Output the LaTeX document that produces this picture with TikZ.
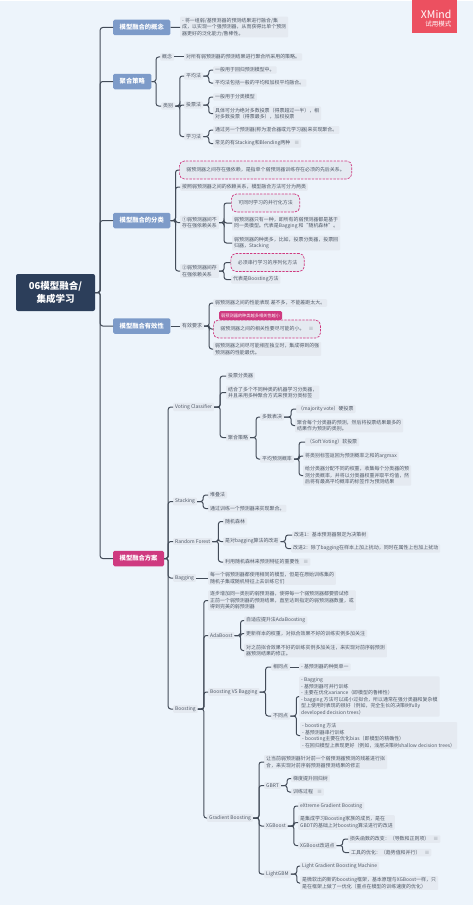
\documentclass[tikz,border=0pt]{standalone}
\usepackage{fontspec}
\setmainfont{Noto Sans CJK SC}
\definecolor{pagebg}{HTML}{EDF4FB}
\definecolor{leafbg}{HTML}{E5EAF1}
\definecolor{leafink}{HTML}{4F5967}
\definecolor{linkgrey}{HTML}{434C59}
\definecolor{rootink}{HTML}{2C3E5A}
\definecolor{topblue}{HTML}{7D9BC9}
\definecolor{toppink}{HTML}{CF3A80}
\definecolor{badgered}{HTML}{EC5060}
\tikzset{
  link/.style={draw=linkgrey,line width=1pt,rounded corners=2.5pt},
  leaf/.style={fill=leafbg,text=leafink,font=\fontsize{4.95}{6.5}\selectfont,align=left,anchor=west,
    inner xsep=2pt,inner ysep=1.4pt,rounded corners=1pt},
  hilite/.style={leaf,draw=toppink,dash pattern=on 2.4pt off 1.2pt,line width=0.7pt,rounded corners=5pt,
    inner xsep=7pt,minimum height=18pt},
  topic/.style={fill=topblue,text=white,font=\fontsize{6.3}{7}\bfseries\selectfont,anchor=west,
    inner xsep=6.5pt,minimum height=15.5pt,rounded corners=1.5pt},
}
\newcommand{\branch}[3]{\foreach \kid in {#3}{\draw[link] (#1.east) -- ([xshift=#2]#1.east) |- (\kid.west);}}
\newcommand{\noteicon}{\hspace{4pt}{\color{leafink!70}≡}}
\begin{document}
\begin{tikzpicture}[x=1pt,y=-1pt]
  \useasboundingbox (0,0) rectangle (474,907);
  \fill[white] (0,0) rectangle (474,907);
  \fill[pagebg] (0,1.5) rectangle (472.5,904.5);

  % root and the first level
  \node[fill=rootink,text=white,font=\fontsize{9.5}{13}\bfseries\selectfont,align=center,
    minimum width=79pt,minimum height=37pt,rounded corners=2pt] (root) at (55.5,292.5) {06模型融合/\\集成学习};
  \node[topic] (concept) at (113,27.5) {模型融合的概念};
  \node[topic] (combine) at (113,81.5) {聚合策略};
  \node[topic] (kinds) at (113,220.5) {模型融合的分类};
  \node[topic] (valid) at (113,326) {模型融合有效性};
  \node[topic,fill=toppink] (scheme) at (113,558.5) {模型融合方案};
  \branch{root}{5pt}{concept,combine,kinds,valid,scheme}

  % concept
  \node[leaf] (conceptA) at (180,27) {- 将一组弱/基预测器的预测结果进行融合/集\\成，以实现一个强预测器，从而获得比单个预测\\器更好的泛化能力/鲁棒性。};
  \draw[link] (concept) -- (conceptA);

  % combine
  \node[leaf] (idea) at (160,57) {概念};
  \node[leaf] (ideaA) at (184,57) {对所有弱预测器的预测结果进行聚合所采用的策略。};
  \node[leaf] (sort) at (161,106) {类别};
  \branch{combine}{4.5pt}{idea,sort}
  \draw[link] (idea) -- (ideaA);
  \node[leaf] (mean) at (184,76) {平均法};
  \node[leaf] (vote) at (184,105) {投票法};
  \node[leaf] (learn) at (184,136.5) {学习法};
  \branch{sort}{4.5pt}{mean,vote,learn}
  \node[leaf] (meanA) at (213,70) {一般用于回归预测模型中。};
  \node[leaf] (meanB) at (213,83) {平均法包括一般的平均和加权平均融合。};
  \branch{mean}{5.5pt}{meanA,meanB}
  \node[leaf] (voteA) at (213,97) {一般用于分类模型};
  \node[leaf] (voteB) at (213,113.5) {具体可分为绝对多数投票（得票超过一半），相\\对多数投票（得票最多），加权投票};
  \branch{vote}{5.5pt}{voteA,voteB}
  \node[leaf] (learnA) at (213,130) {通过另一个预测器(称为混合器或元学习器)来实现聚合。};
  \node[leaf] (learnB) at (213,143.5) {常见的有Stacking和Blending两种\noteicon};
  \branch{learn}{5.5pt}{learnA,learnB}

  % kinds
  \node[hilite] (kindA) at (179,170) {弱预测器之间存在强依赖，是指单个弱预测器训练存在必须的先后关系。};
  \node[leaf] (kindB) at (180,187) {按照弱预测器之间的依赖关系，模型融合方法可分为两类};
  \node[leaf] (kindC) at (180,222.5) {①弱预测器间不\\存在强依赖关系};
  \node[leaf] (kindD) at (180,271) {②弱预测器间存\\在强依赖关系};
  \branch{kinds}{5pt}{kindA,kindB,kindC,kindD}
  \node[hilite] (paraA) at (231,203) {可同时学习的并行化方法};
  \node[leaf] (paraB) at (232,223) {弱预测器只有一种，即所有的弱预测器都是基于\\同一类模型。代表是Bagging 和“随机森林”。};
  \node[leaf] (paraC) at (232,243) {弱预测器的种类多，比如，投票分类器，投票回\\归器，Stacking};
  \branch{kindC}{5pt}{paraA,paraB,paraC}
  \node[hilite] (seqA) at (230.5,262.5) {必须串行学习的序列化方法};
  \node[leaf] (seqB) at (231,279.5) {代表是Boosting方法};
  \branch{kindD}{5pt}{seqA,seqB}

  % valid
  \node[leaf] (need) at (180,326) {有效要求};
  \draw[link] (valid) -- (need);
  \node[leaf] (needA) at (213,303) {弱预测器之间的性能表现 差不多，不能差距太大。};
  \node[hilite] (needB) at (213,329) {弱预测器之间的相关性要尽可能的小。\noteicon};
  \node[leaf] (needC) at (213,349) {弱预测器之间尽可能相互独立时，集成得到的强\\预测器的性能最优。};
  \branch{need}{5pt}{needA,needB,needC}
  \node[fill=toppink,text=white,font=\fontsize{4.2}{5}\selectfont,anchor=west,inner xsep=2pt,inner ysep=1pt,
    minimum height=9pt,rounded corners=1.5pt] (needtag) at (219,315.5) {弱预测器的种类越多相关性越小};

  % scheme
  \node[leaf] (voting) at (173,407) {Voting Classifier};
  \node[leaf] (stacking) at (173,501.5) {Stacking};
  \node[leaf] (forest) at (173,541.5) {Random Forest};
  \node[leaf] (bagging) at (173,578) {Bagging};
  \node[leaf] (boosting) at (173,709) {Boosting};
  \branch{scheme}{4pt}{voting,stacking,forest,bagging,boosting}

  % voting classifier
  \node[leaf] (votingA) at (226,376) {投票分类器};
  \node[leaf] (votingB) at (226,392.5) {结合了多个不同种类的机器学习分类器，\\并且采用多种聚合方式来预测分类标签};
  \node[leaf] (votingC) at (226,437.5) {聚合策略};
  \branch{voting}{6pt}{votingA,votingB,votingC}
  \node[leaf] (major) at (260,417) {多数表决};
  \node[leaf] (soft) at (260,459) {平均预测概率};
  \branch{votingC}{6pt}{major,soft}
  \node[leaf] (majorA) at (296,409) {（majority vote）硬投票};
  \node[leaf] (majorB) at (295,425.5) {聚合每个分类器的预测，然后将投票结果最多的\\结果作为预测的类别。};
  \branch{major}{7pt}{majorA,majorB}
  \node[leaf] (softA) at (305,442) {（Soft Voting）软投票};
  \node[leaf] (softB) at (303,456) {将类别标签返回为预测概率之和的argmax};
  \node[leaf] (softC) at (303,475.5) {给分类器分配不同的权重，收集每个分类器的预\\测分类概率，并将以分类器权重并取平均值，然\\后将有最高平均概率的标签作为预测结果};
  \branch{soft}{5pt}{softA,softB,softC}

  % stacking
  \node[leaf] (stackA) at (208,495) {堆叠法};
  \node[leaf] (stackB) at (208,508.5) {通过训练一个预测器来实现聚合。};
  \branch{stacking}{6pt}{stackA,stackB}

  % random forest
  \node[leaf] (forestA) at (223,521.5) {随机森林};
  \node[leaf] (forestB) at (223,541.5) {是对bagging算法的改进};
  \node[leaf] (forestC) at (223,562) {利用随机森林来预测特征的重要性\noteicon};
  \branch{forest}{6pt}{forestA,forestB,forestC}
  \node[leaf] (betterA) at (292,535) {改进1：基本预测器限定为决策树};
  \node[leaf] (betterB) at (291,548.5) {改进2：除了bagging在样本上加上扰动，同时在属性上也加上扰动};
  \branch{forestB}{5pt}{betterA,betterB}

  % bagging
  \node[leaf] (baggingA) at (208,578) {每一个弱预测器都使用相同的模型，但是在原始训练集的\\随机子集或随机特征上去训练它们};
  \draw[link] (bagging) -- (baggingA);

  % boosting
  \node[leaf] (boostA) at (208,600.5) {逐步增加同一类别的弱预测器，使得每一个弱预测器都要尝试修\\正前一个弱预测器的预测结果，直至达到指定的弱预测器数量，或\\得到完美的弱预测器};
  \node[leaf] (ada) at (208,635.5) {AdaBoost};
  \node[leaf] (vs) at (208,692) {Boosting VS Bagging};
  \node[leaf] (gradient) at (207,818) {Gradient Boosting};
  \branch{boosting}{6pt}{boostA,ada,vs,gradient}
  \node[leaf] (adaA) at (244,620.5) {自适应提升法AdaBoosting};
  \node[leaf] (adaB) at (244,633.5) {更新样本的权重，对拟合效果不好的训练实例多加关注};
  \node[leaf] (adaC) at (244,650.5) {对之前拟合效果不好的训练实例多加关注，来实现对前序弱预测\\器预测结果的修正。};
  \branch{ada}{6pt}{adaA,adaB,adaC}
  \node[leaf] (same) at (271,667) {相同点};
  \node[leaf] (diff) at (271,716) {不同点};
  \branch{vs}{6pt}{same,diff}
  \node[leaf] (sameA) at (299,667) {- 基预测器的种类单一};
  \draw[link] (same) -- (sameA);
  \node[leaf] (diffA) at (299,696.5) {- Bagging\\- 基预测器可并行训练\\- 主要在优化variance（即模型的鲁棒性）\\- bagging 方法可以减小过拟合，所以通常在强分类器和复杂模\\型上使用时表现的很好（例如，完全生长的决策树fully\\developed decision trees）};
  \node[leaf] (diffB) at (300,735.5) {- boosting 方法\\- 基预测器串行训练\\- boosting主要在优化bias（即模型的精确性）\\- 在回归模型上表现更好（例如，浅层决策树shallow decision trees）};
  \branch{diff}{6pt}{diffA,diffB}

  % gradient boosting
  \node[leaf] (gradA) at (264,762) {让当前弱预测器针对前一个弱预测器预测的残差进行拟\\合，来实现对前序弱预测器预测结果的修正};
  \node[leaf] (gbrt) at (264,785.5) {GBRT};
  \node[leaf] (xgb) at (264,826) {XGBoost};
  \node[leaf] (lgbm) at (264,874) {LightGBM};
  \branch{gradient}{6pt}{gradA,gbrt,xgb,lgbm}
  \node[leaf] (gbrtA) at (291,778.5) {梯度提升回归树};
  \node[leaf] (gbrtB) at (291,792) {训练过程\noteicon};
  \branch{gbrt}{6pt}{gbrtA,gbrtB}
  \node[leaf] (xgbA) at (298,806) {eXtreme Gradient Boosting};
  \node[leaf] (xgbB) at (298,822.5) {是集成学习Boosting家族的成员，是在\\GBDT的基础上对boosting算法进行的改进};
  \node[leaf] (xgbC) at (298,845.5) {XGBoost改进点};
  \branch{xgb}{6pt}{xgbA,xgbB,xgbC}
  \node[leaf] (xgbD) at (348,839) {损失函数的改变：（导数和正则项）\noteicon};
  \node[leaf] (xgbE) at (349,852.5) {工具的优化：（趋势值和并行）\noteicon};
  \branch{xgbC}{6pt}{xgbD,xgbE}
  \node[leaf] (lgbmA) at (300,866) {Light Gradient Boosting Machine};
  \node[leaf] (lgbmB) at (300,883) {是微软出的新的boosting框架，基本原理与XGBoost一样，只\\是在框架上做了一优化（重点在模型的训练速度的优化）};
  \branch{lgbm}{6pt}{lgbmA,lgbmB}

  % trial badge
  \node[fill=badgered,anchor=north west,minimum width=45pt,minimum height=33pt,inner sep=0pt] (badge) at (412,0) {};
  \node[text=white,anchor=east,inner sep=0pt,font=\fontsize{10.5}{11}\selectfont] (badgeA) at (451.5,14) {XMind};
  \node[text=white,anchor=east,inner sep=0pt,font=\fontsize{6.5}{8}\selectfont] (badgeB) at (451.5,24) {试用模式};
\end{tikzpicture}
\end{document}
